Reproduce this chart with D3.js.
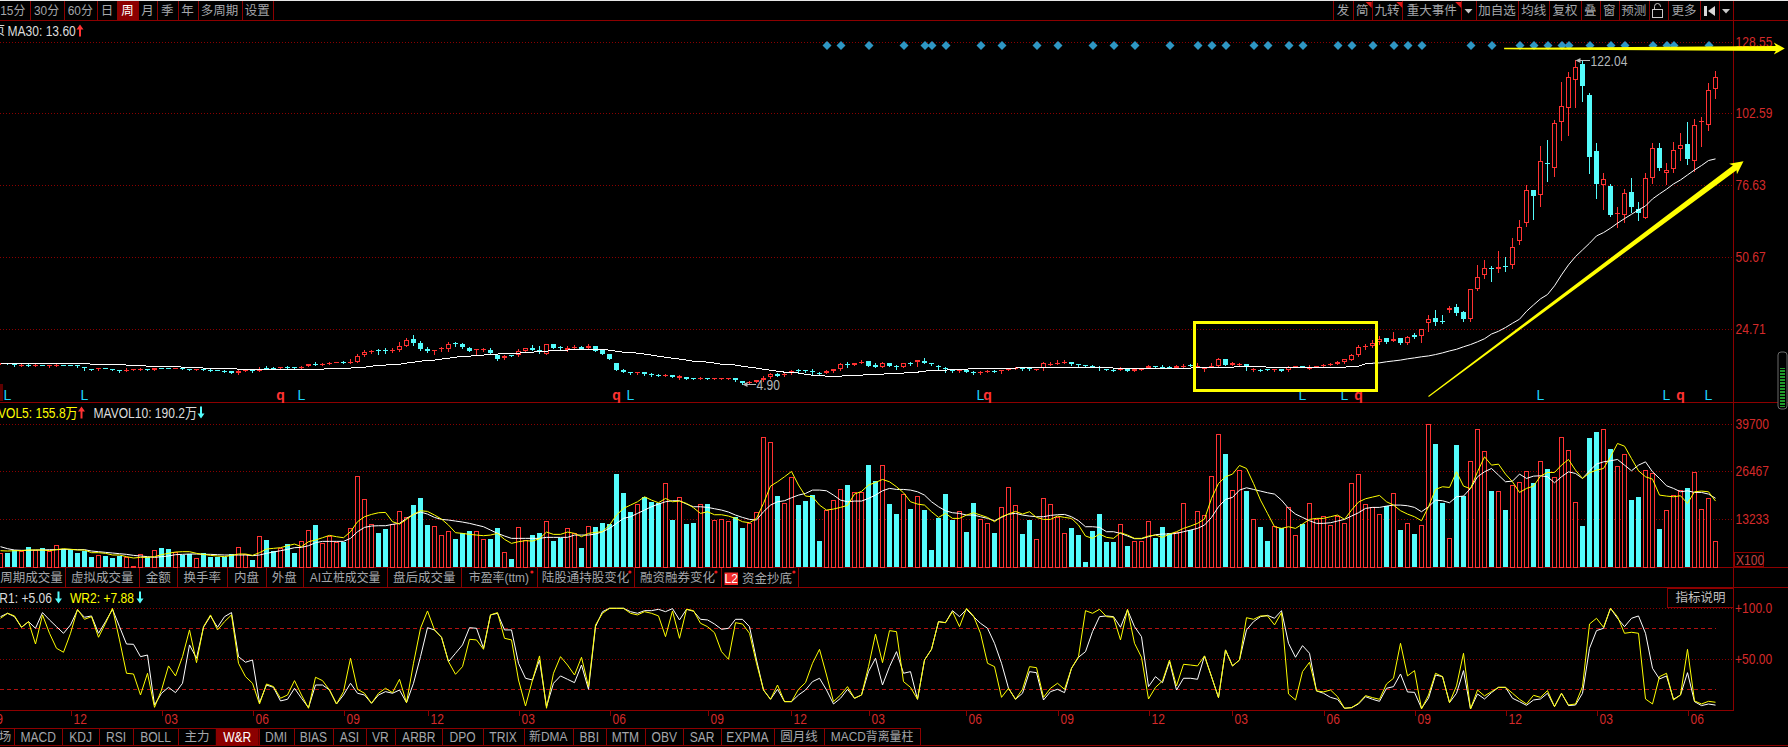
<!DOCTYPE html>
<html>
<head>
<meta charset="utf-8">
<script src="https://cdn.jsdelivr.net/npm/d3@7"></script>
<style>
html,body{margin:0;padding:0;background:#000;overflow:hidden}
svg{display:block}
text{font-family:"Liberation Sans","Noto Sans CJK SC",sans-serif}
</style>
</head>
<body>
<svg id="chart" width="1788" height="747"></svg>
<script>
// Weekly bars: open, high, low, close
const opens = [
12.25,12.5,12.1,11.8,11.9,11.8,11.9,11.5,11.75,11.9,
11.9,11.65,11.2,10.45,10.6,10.8,10.45,10.1,10.0,10.2,
10.2,10.45,10.1,10.8,10.8,10.6,10.9,10.45,10.2,10.45,
10.2,10.1,9.7,9.7,9.1,9.6,10.1,9.7,10.8,10.7,
10.8,11.2,11.2,10.8,11.3,12.25,12.0,12.4,12.75,13.0,
12.75,13.0,15.5,16.7,17.3,17.4,17.2,17.3,18.75,21.3,
19.8,17.7,17.2,17.55,17.7,19.6,19.35,18.0,17.3,17.3,
17.3,15.5,14.4,15.5,15.5,16.95,18.0,17.3,15.9,19.5,
18.15,17.3,18.0,18.4,18.0,18.75,17.3,15.9,12.6,10.1,
9.4,9.1,9.4,8.65,8.4,8.05,8.3,7.2,7.6,7.2,
7.0,7.2,6.85,6.85,6.85,7.2,5.9,5.4,5.8,6.5,
7.6,8.65,8.3,9.0,9.85,9.85,9.7,9.0,9.0,9.7,
10.45,12.25,11.9,12.6,13.3,11.9,11.2,12.6,11.5,11.2,
12.6,13.0,13.3,12.6,11.3,10.8,10.45,9.7,10.1,9.4,
9.1,9.5,9.7,9.85,10.1,10.6,10.8,10.6,10.1,10.8,
12.0,12.25,12.75,13.0,12.25,11.9,11.5,11.2,10.45,10.2,
10.2,10.8,9.7,10.1,10.8,11.5,11.2,11.2,10.8,11.3,
11.9,11.3,10.7,11.3,11.5,14.05,11.9,12.0,12.25,10.2,
10.2,10.45,10.1,10.45,10.1,11.3,11.5,10.45,11.2,11.65,
12.0,12.25,13.0,13.7,15.5,18.4,18.75,20.2,21.5,20.55,
21.65,19.85,22.7,22.35,27.05,28.85,27.65,31.75,32.8,31.0,
28.5,39.3,44.35,46.9,46.3,47.7,48.0,56.4,63.2,75.0,
73.3,84.85,83.05,99.65,104.7,114.8,120.45,109.25,89.05,76.95,
76.45,66.5,66.1,74.3,68.15,64.7,79.2,90.15,81.25,82.45,
89.65,91.6,85.35,99.4,98.55,111.3];
const highs = [
12.5,12.5,12.5,12.25,12.25,12.25,11.9,11.9,12.25,11.9,
11.9,12.0,11.2,10.45,10.8,10.8,10.45,10.1,10.6,10.45,
10.8,10.45,10.8,10.8,10.8,10.8,10.9,10.45,10.45,10.8,
10.6,10.1,10.1,9.7,10.2,10.2,10.1,11.2,11.5,11.2,
11.2,11.5,11.2,11.5,12.25,13.0,12.6,13.0,13.0,13.3,
14.05,15.9,17.3,17.3,17.7,18.0,18.0,20.2,21.6,22.7,
20.55,18.15,17.4,18.4,20.2,20.2,19.8,18.4,17.7,18.0,
18.0,15.5,15.5,15.5,17.7,17.9,19.1,18.75,19.5,19.5,
18.75,18.75,19.1,18.75,19.5,18.75,17.3,15.9,12.6,10.45,
9.4,9.4,9.4,9.0,8.65,8.65,8.3,8.05,7.6,7.2,
7.6,7.2,7.2,7.2,7.2,7.2,6.1,6.1,6.5,7.9,
9.0,9.0,9.0,10.1,10.45,10.1,10.45,9.4,10.1,10.45,
12.6,13.0,12.6,13.7,13.3,12.6,13.0,12.6,11.9,12.6,
13.0,13.7,14.4,12.6,11.9,11.2,10.45,10.45,10.1,9.7,
9.7,10.1,10.1,10.1,10.7,11.2,11.2,10.8,10.45,13.0,
13.0,13.7,13.7,13.0,12.25,11.9,11.9,11.5,10.45,10.45,
11.2,10.8,10.45,10.7,11.9,11.5,11.9,11.5,11.9,12.25,
12.25,12.6,10.9,12.6,14.4,14.05,13.0,12.6,12.25,10.8,
10.45,10.45,10.45,10.45,11.5,11.5,11.5,11.9,11.5,12.25,
12.6,13.3,14.05,15.9,19.1,19.5,20.9,22.35,21.5,23.8,
21.65,22.35,23.45,24.75,29.9,31.75,29.9,33.2,33.9,31.4,
39.3,47.95,49.75,47.6,53.0,50.85,57.6,64.2,76.8,75.0,
90.9,93.0,100.25,114.05,117.65,122.04,121.65,109.85,91.85,81.0,
77.15,68.9,75.35,79.35,70.7,81.0,91.85,91.85,84.6,92.3,
95.45,99.5,100.6,101.35,113.6,117.9];
const lows = [
12.25,12.25,11.5,11.4,11.5,11.5,11.65,11.2,11.5,11.65,
11.65,11.2,10.1,10.2,10.2,10.6,10.2,9.4,9.7,10.2,
10.0,10.2,10.1,10.6,10.6,10.6,10.45,10.2,10.2,10.1,
9.7,9.85,9.4,9.0,8.65,9.5,9.4,9.7,10.45,10.45,
10.8,10.8,10.8,10.45,11.3,11.9,11.9,12.25,12.75,12.6,
12.6,13.0,15.1,16.2,15.9,16.2,16.6,16.95,18.75,19.1,
17.3,16.6,15.9,16.95,16.95,18.75,18.0,16.95,15.9,16.95,
15.9,13.7,14.05,15.1,15.1,16.95,17.3,16.2,15.9,18.0,
17.3,16.95,17.7,17.7,17.7,16.95,15.9,14.05,10.1,9.4,
8.65,8.65,8.3,7.9,7.9,7.9,7.6,6.85,6.85,6.85,
6.85,6.85,6.85,6.85,6.85,5.9,4.9,5.15,5.8,6.1,
7.2,7.9,7.9,8.65,9.4,9.4,8.65,8.65,9.0,9.4,
10.1,11.2,11.9,12.6,11.5,11.2,11.2,11.5,10.45,11.2,
11.9,11.5,12.6,11.9,10.45,9.4,9.4,9.4,9.4,8.65,
8.65,9.4,9.4,9.0,10.1,10.45,10.1,10.1,10.1,10.1,
11.9,12.25,12.6,11.9,11.5,11.5,11.2,10.1,10.1,9.7,
10.1,9.7,9.7,10.1,10.8,11.2,10.8,10.8,10.8,11.2,
11.5,11.2,9.7,11.2,11.5,11.9,11.9,11.5,10.1,9.7,
9.7,10.1,9.7,9.7,9.7,11.2,11.2,10.45,11.2,11.5,
11.9,12.25,12.6,13.7,15.1,17.65,18.4,19.45,19.85,20.55,
19.45,19.45,21.65,20.2,24.15,26.3,27.05,31.0,29.9,27.75,
27.75,38.95,43.25,42.2,45.45,45.8,47.0,55.4,62.1,64.55,
69.25,78.25,80.05,93.0,94.85,104.95,107.1,81.25,72.25,68.15,
65.6,61.55,63.45,67.05,64.2,64.7,77.4,82.2,77.15,81.5,
85.8,84.4,81.85,90.85,96.65,108.2];
const closes = [
12.5,12.25,11.9,11.9,11.8,11.9,11.65,11.65,12.0,11.65,
11.65,11.4,10.6,10.2,10.8,10.6,10.2,9.7,10.2,10.45,
10.45,10.2,10.8,10.6,10.6,10.8,10.45,10.2,10.45,10.1,
10.0,9.85,9.5,9.0,9.7,9.85,9.7,10.45,10.45,10.45,
11.2,10.9,10.8,11.2,12.25,11.9,12.25,12.6,13.0,12.75,
13.0,15.1,16.6,16.95,17.05,17.2,17.4,18.6,20.9,19.8,
17.7,16.95,17.4,17.8,19.5,19.35,18.5,16.95,17.55,17.7,
16.2,14.05,15.1,15.1,16.95,17.9,17.3,16.95,19.5,18.0,
17.8,18.0,18.4,17.7,18.85,16.95,15.9,14.05,10.1,9.4,
9.0,9.4,8.65,8.3,8.05,8.4,7.6,7.9,6.85,6.85,
7.3,6.85,7.2,7.2,7.2,6.25,5.5,5.8,6.5,7.2,
8.65,7.9,8.65,9.7,9.5,9.5,9.4,8.65,9.7,10.45,
12.25,11.9,12.6,13.0,11.5,11.2,12.6,11.5,11.2,12.6,
12.25,13.55,12.6,12.25,10.95,10.45,9.7,10.1,9.4,9.0,
9.4,9.7,9.5,10.1,10.7,10.7,10.45,10.3,10.45,12.6,
12.25,12.6,13.0,12.25,11.9,11.5,11.3,10.7,10.1,10.0,
10.7,9.7,10.45,10.7,11.5,11.2,10.8,10.9,11.5,11.5,
11.65,11.5,10.9,11.5,14.05,11.9,12.6,12.25,11.2,10.45,
10.0,10.1,10.45,9.7,11.2,11.4,11.2,10.8,11.5,11.9,
12.25,13.0,14.05,15.5,18.4,18.75,19.7,21.15,20.2,21.3,
19.85,22.0,22.1,24.75,28.35,27.4,27.3,32.55,30.65,28.5,
39.3,43.65,46.9,46.3,47.25,47.25,54.3,61.5,75.0,72.85,
85.3,84.4,99.05,105.2,115.65,119.25,112.6,87.0,77.3,78.85,
66.0,66.7,73.8,69.0,66.5,79.2,90.05,82.95,82.1,89.3,
91.1,86.2,98.3,99.9,110.95,115.65];
const ma30 = [
12.5,12.5,12.5,12.5,12.5,12.5,12.5,12.5,12.5,12.5,
12.5,12.5,12.5,12.1,12.1,12.1,12.1,12.1,11.8,11.8,
11.8,11.4,11.4,11.4,11.4,11.4,11.05,11.05,11.05,10.7,
10.7,10.7,10.7,10.7,10.3,10.3,10.3,10.3,10.3,10.3,
10.3,10.3,10.3,10.3,10.3,10.3,10.3,10.7,10.7,10.7,
10.7,11.05,11.05,11.4,11.8,11.8,12.1,12.1,12.5,12.85,
13.2,13.6,13.6,13.95,14.3,14.65,15.0,15.0,15.4,15.4,
15.75,15.75,16.1,16.1,16.1,16.45,16.45,16.8,16.8,17.2,
17.2,17.2,17.55,17.55,17.55,17.55,17.4,17.2,16.8,16.45,
16.45,16.1,15.75,15.4,15.0,14.65,14.3,13.95,13.6,13.2,
13.2,12.85,12.5,12.1,12.1,11.8,11.4,11.05,10.7,10.3,
9.95,9.6,9.25,9.25,8.9,8.5,8.15,8.15,7.8,7.8,
7.8,8.15,8.15,8.15,8.5,8.5,8.5,8.9,8.9,8.9,
9.25,9.25,9.6,9.95,9.95,9.95,10.3,10.3,10.3,10.7,
10.7,10.7,10.7,10.7,10.7,10.7,11.05,11.05,11.05,11.05,
11.05,11.05,11.05,11.05,11.05,11.05,11.05,11.05,11.05,10.7,
10.7,10.7,10.7,10.7,10.7,10.7,10.7,10.7,10.7,10.7,
10.7,11.05,11.05,11.05,11.05,11.05,11.05,11.4,11.4,11.4,
11.4,11.05,11.05,11.05,11.05,11.05,11.05,11.05,11.05,11.05,
11.05,11.05,11.05,11.4,11.4,12.25,12.5,12.6,13.0,13.3,
13.6,14.05,14.4,14.8,15.1,15.6,16.2,16.9,17.5,18.4,
19.2,20.2,21.3,23.0,24.0,25.35,26.9,28.35,31.2,33.5,
35.7,37.25,40.4,44.35,47.95,50.95,53.35,55.75,58.4,59.6,
61.2,63.0,64.65,66.2,67.8,69.2,71.75,73.55,75.25,77.15,
78.6,80.4,82.2,83.8,85.6,86.2];

// Volume in hundreds of lots, with its two averages
const volumes = [
3780,3960,4700,4510,5530,4700,5160,4420,5990,5070,
5070,3960,4510,2860,3320,3130,2580,3040,2670,370,
3500,2860,4610,5250,4970,4240,3410,3500,2490,3780,
2860,2860,2670,3500,5530,3590,1930,8570,7460,4510,
5160,6260,3960,7090,10130,11600,6540,8470,7000,7000,
10680,25050,18700,11790,9390,10500,11880,15380,13720,17130,
19060,11600,11240,8840,9850,7740,9390,9950,9850,7740,
7740,10780,4050,2210,10960,7370,8840,9390,12620,7180,
8100,10680,9490,5250,11240,11050,12160,11880,25700,20450,
15200,17310,19430,18050,17590,23120,12990,19250,11880,12160,
17310,17410,12990,13260,12710,13820,10780,12070,15100,36100,
34720,19620,17590,24770,17130,18240,19800,7180,15750,18510,
21460,22660,20630,20630,28180,23760,28090,17410,14640,20080,
16030,19710,15750,4700,13630,20170,12990,15560,9670,17680,
13170,12070,9390,16490,22010,17040,9120,12990,7640,18970,
17310,13820,9300,10780,8840,1380,9950,14640,6910,6910,
11790,5800,7090,7090,12620,8010,11050,9390,9670,17590,
10130,15380,14280,25050,36930,31220,21180,26800,21090,13170,
11050,7180,11330,10780,16490,8840,11880,17590,13170,14000,
11600,14000,12070,23120,25600,17410,16490,14640,16760,20350,
10220,12070,9120,11510,39700,33980,17680,7920,33710,19710,
29200,38310,31960,21090,20910,15750,22660,23390,26430,23210,
29200,27080,24770,35830,32240,17870,11330,35640,37300,38310,
32600,27810,31220,18510,19340,26710,25880,10500,15660,19800,
21180,21740,26160,15930,18970,7090];
const mavol5 = [
4510,4420,4510,4510,4700,4700,4700,4510,4790,5070,
4880,4700,4700,3960,3960,3780,3320,3320,2860,2490,
2670,2670,2860,3410,3780,4140,4240,4240,3780,3500,
3220,3040,2860,3220,3590,3590,3220,3960,4970,5160,
5340,5890,6350,5620,7000,7460,8100,8750,8380,8100,
9760,12530,13910,14550,15010,15100,12530,11880,13170,14550,
15560,15380,14370,13260,11600,9490,9300,9030,8840,8660,
8840,9300,7640,6540,7000,7280,7180,7830,9670,9030,
9030,9670,9300,8380,9300,9580,9760,11600,14370,16210,
17130,18050,19430,18510,17780,18970,18050,18240,17590,16390,
14830,15290,14460,14460,14090,13450,12530,12250,13450,17590,
22380,23580,24960,26430,22660,19620,19430,17130,15750,16030,
16490,17040,20170,20910,22660,23390,24220,23580,22200,20540,
18050,17410,17130,15290,13720,14830,13450,13450,14370,15010,
14370,13720,12530,13910,14640,15380,14640,15290,13720,13170,
13170,14090,13720,13450,11600,8570,7920,9120,8200,7920,
9490,8840,7920,7920,8570,8840,8200,9120,9760,10680,
11330,12070,13260,18970,23120,24960,25700,28090,27260,23120,
18510,14830,11140,10680,11140,10680,11880,13170,13450,13450,
13910,14370,13170,15750,17960,18880,19340,19800,18050,17130,
15580,14640,13910,12800,16670,21460,22200,22010,26340,22380,
21640,26340,30490,28180,28460,25700,23580,20630,21740,22380,
25140,26160,26160,28180,29750,26800,24500,26060,26800,27260,
30490,34170,33430,30020,26620,24960,24310,19890,19620,19430,
19710,17590,20810,21000,20810,18240];
const mavol10 = [
5620,5070,4700,4610,4610,4700,4700,4790,4790,4880,
4880,4790,4790,4420,4240,4050,3870,3680,3500,3220,
3040,2860,2670,2860,3040,3410,3500,3590,3590,3500,
3500,3410,3320,3320,3320,3320,3130,3320,3780,4140,
4510,4880,5340,5430,5890,6720,7090,7090,7090,7090,
7920,9760,10960,11330,11420,11420,11790,12070,13450,14550,
15200,14640,13720,13170,12990,12710,12430,12070,11600,11140,
10220,9300,8570,7920,7920,7920,7920,7920,8200,8200,
8200,8200,8840,8840,8840,9120,9760,10680,12070,13450,
13910,14830,15750,16670,17410,18050,18330,18330,17410,16670,
16670,16490,16120,15750,15200,14370,13720,13170,12990,15290,
17130,18050,18330,19160,19890,20350,21280,21280,21090,19890,
18510,18050,18240,18240,18970,19890,21090,21740,21460,21460,
21280,20810,19890,18050,16670,15560,15010,14830,14370,14370,
13910,13450,12800,13720,14640,14830,14370,14090,13910,13910,
14280,14460,14550,13910,12800,11140,11140,10960,9760,9760,
9300,8570,7830,7830,8380,8930,9120,9120,9300,9760,
10220,10680,11600,13720,16670,18700,19250,21280,21920,21460,
21000,20540,20170,18510,16210,14640,13720,12800,12070,12070,
12250,12710,13170,14090,15010,16210,16490,16490,16850,17130,
17130,16950,16490,15290,16670,18510,18330,17780,19430,19620,
21740,24960,26340,27260,25420,23580,23760,25700,24500,25140,
25240,24960,23300,24960,26340,25880,24500,26620,28460,29100,
29380,29750,28180,26620,28180,29100,26340,24500,22470,21740,
20810,21090,20630,20630,20170,19020];

// Williams %R, periods shown in the legend
const wr1 = [
91.8,95.1,91.8,81.4,86.9,80.4,95.8,88.6,82.0,75.5,
83.7,98.4,91.2,92.5,75.5,86.9,99.0,82.0,65.0,64.7,
52.6,54.2,5.2,16.7,22.5,17.3,26.5,64.1,51.0,81.4,
92.5,81.4,91.8,95.8,52.6,47.1,49.3,7.5,24.8,22.5,
9.2,10.8,21.6,11.8,2.6,24.8,24.8,19.9,6.2,15.0,
26.5,16.7,15.0,6.9,15.0,18.3,16.7,19.9,7.5,26.5,
52.6,81.0,78.8,71.6,47.7,55.9,64.1,81.0,80.4,60.8,
93.5,95.1,78.8,78.8,46.1,31.4,29.7,49.3,3.6,26.5,
33.7,30.4,27.1,44.4,20.6,82.0,96.7,100,100,100,
96.7,95.1,97.7,97.7,99.0,96.7,99.7,88.6,99.0,97.1,
89.2,88.6,84.6,79.4,80.4,89.2,89.2,82.0,49.3,19.9,
10.8,20.6,8.5,8.5,15.0,19.9,28.1,31.4,19.9,6.2,
11.8,20.6,11.8,15.0,37.9,51.0,24.8,42.8,57.5,36.3,
37.9,10.8,49.3,59.8,86.9,85.9,97.7,91.8,99.0,91.8,
85.3,80.4,65.7,46.1,21.6,10.8,16.7,37.9,36.9,10.1,
18.3,20.6,17.3,41.2,52.0,57.5,77.1,91.8,92.5,91.8,
81.4,98.4,82.0,72.2,23.2,33.0,27.1,47.7,19.9,31.4,
31.4,30.4,53.3,33.0,12.4,59.2,43.5,49.3,78.8,86.9,
91.8,93.1,90.2,97.7,65.7,52.0,63.4,55.9,19.0,16.7,
12.7,10.8,2.0,2.6,6.2,13.4,10.8,8.8,21.6,23.2,
35.6,18.0,17.6,2.0,11.8,34.6,33.0,7.5,16.7,38.9,
1.3,16.0,11.1,17.3,22.5,22.5,11.8,8.5,4.9,10.1,
11.1,16.7,3.6,16.7,4.6,5.2,16.7,60.8,78.1,80.4,
100,90.2,82.0,90.2,92.5,75.5,41.2,30.7,33.7,10.8,
15.0,36.9,8.5,4.6,6.2,5.06];
const wr2 = [
90.2,95.1,92.5,81.4,86.9,65.0,93.5,75.5,60.8,56.9,
75.5,99.0,89.2,91.8,71.6,85.3,100,69.0,36.3,35.6,
15.0,36.3,2.9,19.9,43.5,33.7,52.6,78.8,46.7,82.0,
93.5,78.8,86.9,93.5,46.1,33.0,26.5,6.2,25.8,23.2,
11.8,15.0,29.1,15.0,2.0,32.4,29.1,19.9,6.2,18.3,
51.0,20.6,16.7,6.9,16.7,21.6,17.3,30.4,7.5,46.1,
80.4,97.4,78.8,71.6,47.7,35.3,42.8,69.6,69.0,59.8,
93.5,95.8,70.6,69.0,29.7,4.2,29.7,53.3,2.0,36.3,
52.6,44.4,34.6,52.0,23.2,83.7,95.1,100,100,100,
95.1,93.5,96.7,95.1,92.5,72.2,97.4,70.6,99.0,97.7,
85.3,82.0,76.1,57.5,50.0,85.9,84.6,75.5,46.1,19.9,
10.8,24.8,8.5,8.5,20.6,27.1,46.1,59.8,34.6,8.5,
15.0,23.2,11.8,15.0,42.8,74.8,46.7,78.1,77.1,28.1,
22.5,10.8,49.3,59.8,86.9,85.9,96.7,82.0,100,92.5,
75.5,46.1,42.8,12.7,21.6,10.8,20.6,42.8,41.8,12.7,
21.6,26.5,20.6,41.2,52.6,97.7,95.1,99.0,91.8,91.2,
69.0,99.0,65.7,52.0,11.1,22.5,28.8,49.3,23.9,45.1,
44.4,43.5,53.3,33.0,12.4,59.2,43.5,49.3,90.8,89.2,
92.5,92.5,83.7,95.8,16.0,10.1,37.9,47.1,19.0,18.0,
19.9,13.4,2.0,2.6,6.9,14.4,12.4,10.8,25.8,31.4,
65.7,33.7,38.9,1.3,15.0,36.3,33.0,7.5,23.9,55.9,
1.3,19.9,14.1,18.3,22.5,22.5,16.7,10.8,6.2,14.7,
12.7,19.3,3.6,16.7,5.2,6.2,23.2,84.6,90.2,81.4,
100,91.8,75.5,76.5,75.5,11.1,6.2,33.0,36.3,10.1,
15.0,59.8,9.2,6.2,8.8,7.88];

// Axis ticks and labels
const priceTicks = [128.55,102.59,76.63,50.67,24.71];
const volumeTicks = [39700,26467,13233];
const wrSolidTicks = [100,50];
const wrDashedLevels = [81,20.5];
const monthTickBars = [-2,10,23,36,49,61,74,87,101,113,124,138,151,164,176,189,202,215,228,241];
const monthTickLabels = ["09","12","03","06","09","12","03","06","09","12","03","06","09","12","03","06","09","12","03","06"];

// Signal markers
const diamondBars = [118,120,124,129,132,133,135,140,143,148,151,156,159,162,167,171,173,175,179,181,184,186,191,193,196,199,201,203,210,213,217,219,221,223,224,227,230,232,236,238,239,244];
const signalBars = [1,12,40,43,88,90,140,141,186,192,194,220,238,240,244];
const signalTypes = ["L","L","q","L","q","L","L","q","L","L","q","L","L","q","L"];

// Hand-drawn annotations, in bar index and price
const boxBars = [170.57,196.57];
const boxPrices = [27.22,2.7];
const flatArrowBars = [214.8,254.9];
const flatArrowPrice = 126;
const riseArrowBars = [204,249];
const riseArrowPrices = [0.47,85.35];

// Toolbars and indicator tabs
const periodTabs = ["15分","30分","60分","日","周","月","季","年","多周期","设置"];
const toolTabs = ["发","简","九转","重大事件","","加自选","均线","复权","叠","窗","预测","","更多","",""];
const volumeTabs = ["周期成交量","虚拟成交量","金额","换手率","内盘","外盘","AI立桩成交量","盘后成交量","市盈率(ttm)","陆股通持股变化","融资融券变化","资金抄底"];
const indicatorTabs = ["场","MACD","KDJ","RSI","BOLL","主力","W&R","DMI","BIAS","ASI","VR","ARBR","DPO","TRIX","新DMA","BBI","MTM","OBV","SAR","EXPMA","圆月线","MACD背离量柱"];

const W = 1788, H = 747, AXIS_X = 1733.5;
const UP = "#ff3232", DOWN = "#54fcfc", RULE = "#8c0000", GRID = "#8a0000",
      AXIS_TEXT = "#d42a2a", TAB_TEXT = "#a4a6aa", YELLOW = "#ffff00";

const n = closes.length;
const bars = d3.range(n);

const x = d3.scaleLinear().domain([0, n - 1]).range([0.5, 1715.5]);
const yPrice = d3.scaleLinear().domain([24.71, 128.55]).range([329.3, 41.5]);
const yVol = d3.scaleLinear().domain([0, 39700]).range([567, 423.5]);
const yWr = d3.scaleLinear().domain([0, 100]).range([710.3, 608.3]);

const svg = d3.select("#chart");
svg.append("rect").attr("width", W).attr("height", H).attr("fill", "#000");

// Text helper: Latin and digits are set condensed the way the terminal's bitmap face is
function label(parent, px, py, str, o = {}) {
  const ascii = /^[\x00-\x7f]*$/.test(str);
  const cjk = !ascii && /[\x00-\x7f]/.test(str);
  const t = parent.append("text").attr("x", px).attr("y", py)
    .attr("fill", o.fill || TAB_TEXT)
    .attr("font-size", o.size || (ascii ? 14 : 12.5))
    .attr("font-weight", o.weight || null)
    .attr("text-anchor", o.anchor || "start")
    .attr("dominant-baseline", "central")
    .text(str);
  const ratio = o.ratio || (ascii ? 0.86 : cjk ? 0.95 : 1);
  if (ratio !== 1) {
    t.attr("textLength", t.node().getComputedTextLength() * ratio)
     .attr("lengthAdjust", "spacingAndGlyphs");
  }
  return t;
}
function hRule(g, y, x0 = 0, x1 = W, color = RULE) {
  g.append("line").attr("x1", x0).attr("x2", x1).attr("y1", y).attr("y2", y)
    .attr("stroke", color).attr("shape-rendering", "crispEdges");
}
function vRule(g, px, y0, y1, color = RULE) {
  g.append("line").attr("x1", px).attr("x2", px).attr("y1", y0).attr("y2", y1)
    .attr("stroke", color).attr("shape-rendering", "crispEdges");
}
function arrowGlyph(g, px, py, up, color) {
  const d = up ? 1 : -1;
  g.append("path").attr("fill", color)
    .attr("d", `M${px},${py - 6 * d}L${px + 3.5},${py - 1 * d}L${px + 1},${py - 1 * d}L${px + 1},${py + 6 * d}L${px - 1},${py + 6 * d}L${px - 1},${py - 1 * d}L${px - 3.5},${py - 1 * d}Z`);
}

// Frame rules
const frame = svg.append("g");
hRule(frame, 0.5, 0, W, "#e6e6e6");
hRule(frame, 20.5);
hRule(frame, 402.5);
hRule(frame, 567.5);
hRule(frame, 587.5);
hRule(frame, 710.5, 0, AXIS_X);
hRule(frame, 745.5);
vRule(frame, AXIS_X, 20, 711);

// Gridlines
const grid = svg.append("g").attr("stroke", GRID).attr("stroke-dasharray", "1 2").attr("shape-rendering", "crispEdges");
grid.selectAll(".p").data(priceTicks).join("line").attr("x1", 0).attr("x2", AXIS_X).attr("y1", d => Math.round(yPrice(d)) + .5).attr("y2", d => Math.round(yPrice(d)) + .5);
grid.selectAll(".v").data(volumeTicks).join("line").attr("x1", 0).attr("x2", AXIS_X).attr("y1", d => Math.round(yVol(d)) + .5).attr("y2", d => Math.round(yVol(d)) + .5);
grid.selectAll(".w").data(wrSolidTicks).join("line").attr("x1", 0).attr("x2", AXIS_X).attr("y1", d => Math.round(yWr(d)) + .5).attr("y2", d => Math.round(yWr(d)) + .5);
svg.append("g").attr("stroke", "#b01010").attr("stroke-dasharray", "4 3").attr("shape-rendering", "crispEdges")
  .selectAll("line").data(wrDashedLevels).join("line")
  .attr("x1", 0).attr("x2", x(n - 1)).attr("y1", d => Math.round(yWr(d)) + .5).attr("y2", d => Math.round(yWr(d)) + .5);

// Axis labels
const axes = svg.append("g");
priceTicks.forEach(v => label(axes, 1735.5, yPrice(v), v.toFixed(2), {fill: AXIS_TEXT}));
volumeTicks.forEach(v => label(axes, 1735.5, yVol(v), String(v), {fill: AXIS_TEXT}));
label(axes, 1735, yWr(100), "+100.0", {fill: AXIS_TEXT});
label(axes, 1735, yWr(50), "+50.00", {fill: AXIS_TEXT});
axes.append("rect").attr("x", 1734.5).attr("y", 552.5).attr("width", 29).attr("height", 14)
  .attr("fill", "none").attr("stroke", RULE).attr("shape-rendering", "crispEdges");
label(axes, 1736, 559.5, "X100", {fill: "#c04040"});
monthTickBars.forEach((b, i) => {
  const tx = Math.round(x(b)) + .5;
  vRule(axes, tx, 710, 716);
  label(axes, tx + 2, 718.5, monthTickLabels[i], {fill: AXIS_TEXT});
});

// Candles
const candleG = svg.append("g").attr("shape-rendering", "crispEdges");
bars.forEach(i => {
  const up = closes[i] >= opens[i];
  const color = up ? UP : DOWN;
  const cx = x(i);
  const top = Math.round(yPrice(Math.max(opens[i], closes[i])));
  const bottom = Math.round(yPrice(Math.min(opens[i], closes[i])));
  candleG.append("line").attr("x1", cx).attr("x2", cx)
    .attr("y1", Math.round(yPrice(highs[i]))).attr("y2", Math.round(yPrice(lows[i])) + 1).attr("stroke", color);
  if (up && bottom - top >= 3) {
    candleG.append("rect").attr("x", cx - 2).attr("width", 4).attr("y", top + .5).attr("height", bottom - top - 1)
      .attr("fill", "#000").attr("stroke", color);
  } else {
    candleG.append("rect").attr("x", cx - 2.5).attr("width", 5).attr("y", top).attr("height", Math.max(1, bottom - top))
      .attr("fill", color);
  }
});

// Moving average of closes: stepped while it is flat, a fine line once it climbs
const lineOf = (yScale, series) => d3.line().x(i => x(i)).y(i => yScale(series[i]));
const climbStart = 196;
svg.append("path").datum(bars.slice(0, climbStart + 1)).attr("d", lineOf(yPrice, ma30)).attr("fill", "none")
  .attr("stroke", "#fff").attr("shape-rendering", "crispEdges");
svg.append("path").datum(bars.slice(climbStart)).attr("d", lineOf(yPrice, ma30)).attr("fill", "none")
  .attr("stroke", "#fff");

// Price extremes
const notes = svg.append("g");
[[225, 122.04, "122.04", 14], [106, 4.9, "4.90", 13]].forEach(([bar, price, txt, len]) => {
  const ax = x(bar), ay = Math.round(yPrice(price)) + .5;
  notes.append("line").attr("x1", ax + 2).attr("x2", ax + len).attr("y1", ay).attr("y2", ay)
    .attr("stroke", "#b8b8b8").attr("shape-rendering", "crispEdges");
  notes.append("path").attr("fill", "#b8b8b8").attr("d", `M${ax},${ay}L${ax + 5},${ay - 2.5}L${ax + 5},${ay + 2.5}Z`);
  label(notes, ax + len + 1, ay, txt, {fill: "#b4b8bc", size: 14, ratio: .86});
});

// Diamonds along the top of the price pane
svg.append("g").selectAll("path").data(diamondBars).join("path")
  .attr("transform", b => `translate(${x(b) + 0.5},45.5)`)
  .attr("d", "M0,-4.5L4.5,0L0,4.5L-4.5,0Z").attr("fill", "#2e97c4");

// Signal letters under the candles
signalBars.forEach((b, i) => {
  label(svg, x(b), 395, signalTypes[i], {
    fill: signalTypes[i] === "q" ? "#ff3232" : "#1fd6ff",
    size: 14, anchor: "middle", weight: signalTypes[i] === "q" ? "bold" : null, ratio: 1
  });
});
svg.append("rect").attr("x", 0).attr("y", 384).attr("width", 3).attr("height", 17).attr("fill", "#5c0000");

// Volume bars
const volG = svg.append("g").attr("shape-rendering", "crispEdges");
bars.forEach(i => {
  const up = closes[i] >= opens[i];
  const cx = x(i), top = Math.round(yVol(volumes[i]));
  if (up) {
    volG.append("rect").attr("x", cx - 2).attr("width", 4).attr("y", top + .5).attr("height", 567 - top - .5)
      .attr("fill", "#000").attr("stroke", UP);
  } else {
    volG.append("rect").attr("x", cx - 2.5).attr("width", 5).attr("y", top).attr("height", 567 - top).attr("fill", DOWN);
  }
});
svg.append("path").datum(bars).attr("d", lineOf(yVol, mavol10)).attr("fill", "none").attr("stroke", "#fff");
svg.append("path").datum(bars).attr("d", lineOf(yVol, mavol5)).attr("fill", "none").attr("stroke", YELLOW);

// Williams %R lines
svg.append("path").datum(bars).attr("d", lineOf(yWr, wr1)).attr("fill", "none").attr("stroke", "#fff");
svg.append("path").datum(bars).attr("d", lineOf(yWr, wr2)).attr("fill", "none").attr("stroke", YELLOW);

// Pane legends
const legend = svg.append("g");
label(legend, 5, 30.5, "页", {fill: "#dcdcdc", anchor: "end"});
label(legend, 7.5, 30.5, "MA30: 13.60", {fill: "#dcdcdc"});
arrowGlyph(legend, 80, 30.5, true, UP);
label(legend, -2, 412.5, "VOL5: 155.8万", {fill: YELLOW, size: 14, ratio: .86});
arrowGlyph(legend, 81.5, 412.5, true, UP);
label(legend, 93.5, 412.5, "MAVOL10: 190.2万", {fill: "#dcdcdc", size: 14, ratio: .86});
arrowGlyph(legend, 201, 412.5, false, DOWN);
label(legend, -12, 597.5, "WR1: +5.06", {fill: "#dcdcdc"});
arrowGlyph(legend, 58.5, 597.5, false, DOWN);
label(legend, 70, 597.5, "WR2: +7.88", {fill: YELLOW});
arrowGlyph(legend, 140, 597.5, false, DOWN);

// Tabbed button rows
function tabRow(names, edges, y0, y1, active, activeFill) {
  const g = svg.append("g");
  names.forEach((name, i) => {
    const a = edges[i], b = edges[i + 1];
    if (i === active) g.append("rect").attr("x", a).attr("y", y0).attr("width", b - a).attr("height", y1 - y0).attr("fill", activeFill);
    if (name) label(g, (a + b) / 2, (y0 + y1) / 2 + .5, name, {anchor: "middle", fill: i === active ? "#fff" : TAB_TEXT});
    vRule(g, Math.round(b) + .5, y0, y1);
  });
  return g;
}
const periodEdges = [-4,29.5,63.5,97,117,138,157,177.6,197.5,241.5,273];
tabRow(periodTabs, periodEdges, 1, 20, 4, "#8c0000");
const toolEdges = [1333.4,1352.6,1371.7,1402.3,1461.2,1475.8,1518.3,1549.3,1580.6,1599.8,1618.5,1649,1668.3,1699.7,1719.2,1733];
const toolRow = tabRow(toolTabs, toolEdges, 1, 20, -1);
vRule(toolRow, 1333.5, 1, 20);
[1371.7, 1402.3, 1461.2].forEach(r => toolRow.append("path").attr("fill", "#e01818").attr("d", `M${r - 6},2L${r},2L${r},8Z`));
[1468.5, 1726].forEach(c => toolRow.append("path").attr("fill", "#c8c8c8").attr("d", `M${c - 4},9L${c + 4},9L${c},13.5Z`));
// Lock icon
toolRow.append("rect").attr("x", 1652.5).attr("y", 9.5).attr("width", 10).attr("height", 8).attr("fill", "none").attr("stroke", "#c8c8c8");
toolRow.append("path").attr("fill", "none").attr("stroke", "#c8c8c8").attr("d", "M1654.5,9.5V6.5A3,3 0 0 1 1660.5,6.5V7");
// Jump-to-start icon
toolRow.append("rect").attr("x", 1704).attr("y", 6).attr("width", 3).attr("height", 10).attr("fill", "#d8d8d8");
toolRow.append("path").attr("fill", "#d8d8d8").attr("d", "M1708,11L1715,6V16Z");

const volumeEdges = [-2,65,139.3,177.2,227.3,265.6,303,387.3,461.2,536.5,634.4,720.6,798.2];
const volRow = tabRow(volumeTabs.slice(0, -1).concat([""]), volumeEdges, 568, 587, -1);
volRow.append("rect").attr("x", 724.5).attr("y", 572.5).attr("width", 13.5).attr("height", 12.5).attr("fill", "#f22c2c");
label(volRow, 731.2, 579, "L2", {anchor: "middle", fill: "#fff", size: 12, ratio: 1});
label(volRow, 767, 578.5, volumeTabs[volumeTabs.length - 1], {anchor: "middle"});
[532, 629.9, 716, 794].forEach(c => volRow.append("circle").attr("cx", c).attr("cy", 572).attr("r", 1.6).attr("fill", "#f01818"));

const indicatorEdges = [-4,14.2,62.4,99,133.2,178,215.8,258.7,293.5,333.3,365.5,395.3,442.4,482.6,523.5,572.9,605.7,645.2,683.4,720.9,774,823.9,920.3];
tabRow(indicatorTabs, indicatorEdges, 728, 745, 6, "#8c0000");
hRule(frame, 728.5, 0, 920.3);

// Info button beside the W&R pane
const infoBtn = svg.append("g");
infoBtn.append("rect").attr("x", 1667.5).attr("y", 588).attr("width", 66).attr("height", 19.5).attr("fill", "#000").attr("stroke", RULE).attr("shape-rendering", "crispEdges");
label(infoBtn, 1700.5, 597.5, "指标说明", {anchor: "middle", fill: "#c0c0c0"});

// Chart-scale slider at the right edge
const slider = svg.append("g");
slider.append("rect").attr("x", 1778).attr("y", 352).attr("width", 9).attr("height", 57).attr("rx", 3).attr("fill", "#000").attr("stroke", "#6a6a6a");
slider.append("rect").attr("x", 1780).attr("y", 368).attr("width", 5).attr("height", 39).attr("fill", "#1f9a2a");
slider.append("g").selectAll("line").data(d3.range(369, 407, 3)).join("line")
  .attr("x1", 1780).attr("x2", 1785).attr("y1", d => d + .5).attr("y2", d => d + .5)
  .attr("stroke", "#000").attr("shape-rendering", "crispEdges");

// Yellow annotations
const marks = svg.append("g");
marks.append("rect")
  .attr("x", x(boxBars[0])).attr("width", x(boxBars[1]) - x(boxBars[0]))
  .attr("y", yPrice(boxPrices[0])).attr("height", yPrice(boxPrices[1]) - yPrice(boxPrices[0]))
  .attr("fill", "none").attr("stroke", YELLOW).attr("stroke-width", 3).attr("shape-rendering", "crispEdges");
function taperedArrow(x0, y0, x1, y1, tailWidth, neckWidth, headLen, headWidth) {
  const dx = x1 - x0, dy = y1 - y0, len = Math.hypot(dx, dy);
  const ux = dx / len, uy = dy / len, nx = -uy, ny = ux;
  const neckX = x1 - ux * headLen, neckY = y1 - uy * headLen;
  const pts = [
    [x0 + nx * tailWidth / 2, y0 + ny * tailWidth / 2],
    [neckX + nx * neckWidth / 2, neckY + ny * neckWidth / 2],
    [neckX + nx * headWidth / 2 - ux * 2, neckY + ny * headWidth / 2 - uy * 2],
    [x1, y1],
    [neckX - nx * headWidth / 2 - ux * 2, neckY - ny * headWidth / 2 - uy * 2],
    [neckX - nx * neckWidth / 2, neckY - ny * neckWidth / 2],
    [x0 - nx * tailWidth / 2, y0 - ny * tailWidth / 2]
  ];
  marks.append("polygon").attr("points", pts.map(p => p.join(",")).join(" ")).attr("fill", YELLOW);
}
taperedArrow(x(flatArrowBars[0]), yPrice(flatArrowPrice), x(flatArrowBars[1]), yPrice(flatArrowPrice), 1.5, 5, 9, 12);
taperedArrow(x(riseArrowBars[0]), yPrice(riseArrowPrices[0]), x(riseArrowBars[1]), yPrice(riseArrowPrices[1]), 1, 6, 11, 13);
</script>
</body>
</html>
